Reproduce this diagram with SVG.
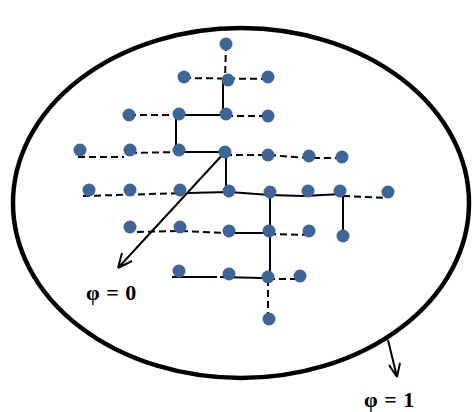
<svg xmlns="http://www.w3.org/2000/svg" width="474" height="412" viewBox="0 0 474 412">
<defs>
<style>
.n{fill:#3f6597}
.s{stroke:#000;stroke-width:2;fill:none}
.d{stroke:#000;stroke-width:2;fill:none;stroke-dasharray:7 4}
.lbl{font-family:"Liberation Serif",serif;font-weight:bold;font-size:22px;fill:#000}
</style>
</defs>
<rect width="474" height="412" fill="#fff"/>
<g id="boundary">
<ellipse cx="241" cy="203" rx="228" ry="175" fill="none" stroke="#000" stroke-width="4.5"/>
</g>
<g id="connectors">
<path class="d" d="M226 44 L225 80"/>
<path class="d" d="M184 78 L268 79"/>
<path class="s" d="M223 80 L223 115"/>
<path class="d" d="M129 115 L179 115"/>
<path class="s" d="M179 115 L226 115"/>
<path class="d" d="M226 116 L268 116"/>
<path class="s" d="M176 115 L176 152"/>
<path class="d" d="M78 157 L124 157"/>
<path class="d" d="M130 153 L178 152"/>
<path class="s" d="M178 152 L225 152"/>
<path class="d" d="M225 155 L268 155 L309 158 L342 158"/>
<path class="s" d="M226 152 L226 192"/>
<path class="d" d="M83 196 L185 193"/>
<path class="s" d="M187 193 L229 192 L270 195 L303 196 L342 194"/>
<path class="d" d="M343 196 L387 198"/>
<path class="s" d="M270 195 L270 278"/>
<path class="s" d="M343 196 L343 236"/>
<path class="d" d="M137 232 L180 231 L228 233"/>
<path class="s" d="M229 233 L269 233"/>
<path class="d" d="M269 234 L309 235"/>
<path class="s" d="M172 277 L217 277"/>
<path class="s" d="M220 277 L262 278"/>
<path class="d" d="M268 279 L300 279"/>
<path class="d" d="M268 279 L268 319"/>
<path class="s" d="M225 152 L118 268 M118 268 L122 253 M118 268 L132 261"/>
<path class="s" d="M388 340 L397 377 M397 377 L389 365 M397 377 L400 363"/>
</g>
<g id="nodes">
<circle class="n" cx="226" cy="44" r="6.5"/>
<circle class="n" cx="184" cy="77" r="6.5"/>
<circle class="n" cx="228" cy="80" r="6.5"/>
<circle class="n" cx="268" cy="77" r="6.5"/>
<circle class="n" cx="129" cy="115" r="6.5"/>
<circle class="n" cx="179" cy="114" r="6.5"/>
<circle class="n" cx="226" cy="114" r="6.5"/>
<circle class="n" cx="268" cy="116" r="6.5"/>
<circle class="n" cx="80" cy="150" r="6.5"/>
<circle class="n" cx="130" cy="150" r="6.5"/>
<circle class="n" cx="179" cy="150" r="6.5"/>
<circle class="n" cx="225" cy="152" r="6.5"/>
<circle class="n" cx="268" cy="155" r="6.5"/>
<circle class="n" cx="309" cy="156" r="6.5"/>
<circle class="n" cx="342" cy="157" r="6.5"/>
<circle class="n" cx="89" cy="190" r="6.5"/>
<circle class="n" cx="130" cy="190" r="6.5"/>
<circle class="n" cx="180" cy="190" r="6.5"/>
<circle class="n" cx="229" cy="191" r="6.5"/>
<circle class="n" cx="270" cy="192" r="6.5"/>
<circle class="n" cx="308" cy="191" r="6.5"/>
<circle class="n" cx="340" cy="191" r="6.5"/>
<circle class="n" cx="388" cy="192" r="6.5"/>
<circle class="n" cx="130" cy="227" r="6.5"/>
<circle class="n" cx="180" cy="227" r="6.5"/>
<circle class="n" cx="229" cy="231" r="6.5"/>
<circle class="n" cx="269" cy="231" r="6.5"/>
<circle class="n" cx="309" cy="231" r="6.5"/>
<circle class="n" cx="343" cy="236" r="6.5"/>
<circle class="n" cx="179" cy="271" r="6.5"/>
<circle class="n" cx="229" cy="274" r="6.5"/>
<circle class="n" cx="268" cy="277" r="6.5"/>
<circle class="n" cx="300" cy="276" r="6.5"/>
<circle class="n" cx="269" cy="319" r="6.5"/>
</g>
<g id="labels">
<text class="lbl" x="86" y="300" word-spacing="1">φ = 0</text>
<text class="lbl" x="364" y="407" word-spacing="1">φ = 1</text>
</g>
</svg>
